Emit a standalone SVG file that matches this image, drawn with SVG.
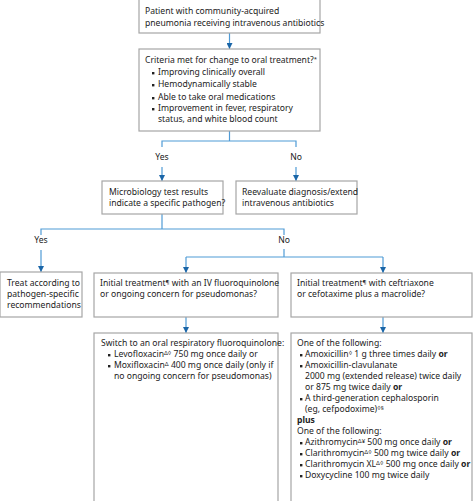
<svg xmlns="http://www.w3.org/2000/svg" width="474" height="501" viewBox="0 0 474 501">
<defs>
<marker id="ah" viewBox="0 0 10 10" refX="10" refY="5" markerWidth="6" markerHeight="6" markerUnits="userSpaceOnUse" orient="auto">
<path d="M0,0 L10,5 L0,10 z" fill="#1a66a8"/>
</marker>
<style>
.box{fill:#fff;stroke:#a6a6a6;stroke-width:1.2}
.t{font-family:"Noto Sans","Open Sans",sans-serif;font-size:8.6px;fill:#222}
.b{font-weight:bold}
.s{font-size:6px}
.c{fill:none;stroke:#4f9bd6;stroke-width:1.2}
.a{marker-end:url(#ah)}
.l{text-anchor:middle}
.bl{fill:#222}
</style>
</defs>
<rect width="474" height="501" fill="#fff"/>
<g id="connectors">
<line class="c a" x1="229.5" y1="33" x2="229.5" y2="49"/>
<polyline class="c" points="229.5,131 229.5,141"/>
<polyline class="c" points="162,147 162,141 296,141 296,147"/>
<line class="c a" x1="162" y1="167" x2="162" y2="181"/>
<line class="c a" x1="296" y1="167" x2="296" y2="181"/>
<polyline class="c" points="162,214 162,229"/>
<polyline class="c" points="41,235 41,229 284,229 284,235"/>
<line class="c a" x1="41" y1="250" x2="41" y2="272"/>
<polyline class="c" points="284,249 284,257"/>
<polyline class="c" points="186,257 383,257"/>
<line class="c a" x1="186" y1="257" x2="186" y2="273"/>
<line class="c a" x1="383" y1="257" x2="383" y2="273"/>
<line class="c a" x1="186" y1="317" x2="186" y2="333"/>
<line class="c a" x1="383" y1="317" x2="383" y2="333"/>
<text class="t l" x="162" y="160">Yes</text>
<text class="t l" x="296" y="160">No</text>
<text class="t l" x="41" y="243">Yes</text>
<text class="t l" x="284" y="243">No</text>
</g>
<g id="n1">
<rect class="box" x="139" y="-1" width="181" height="34"/>
<text class="t" x="145" y="14">Patient with community-acquired</text>
<text class="t" x="145" y="26">pneumonia receiving intravenous antibiotics</text>
</g>
<g id="n2">
<rect class="box" x="139" y="49" width="181" height="82"/>
<text class="t" x="145" y="63">Criteria met for change to oral treatment?<tspan class="s" dy="-2">*</tspan></text>
<rect class="bl" x="152" y="72" width="2.4" height="2.4"/>
<text class="t" x="158" y="75">Improving clinically overall</text>
<rect class="bl" x="152" y="84" width="2.4" height="2.4"/>
<text class="t" x="158" y="87">Hemodynamically stable</text>
<rect class="bl" x="152" y="97" width="2.4" height="2.4"/>
<text class="t" x="158" y="100">Able to take oral medications</text>
<rect class="bl" x="152" y="108" width="2.4" height="2.4"/>
<text class="t" x="158" y="111">Improvement in fever, respiratory</text>
<text class="t" x="158" y="122">status, and white blood count</text>
</g>
<g id="n3">
<rect class="box" x="102" y="181" width="121" height="33"/>
<text class="t" x="109" y="195">Microbiology test results</text>
<text class="t" x="109" y="206">indicate a specific pathogen?</text>
</g>
<g id="n4">
<rect class="box" x="236" y="181" width="121" height="33"/>
<text class="t" x="242" y="195">Reevaluate diagnosis/extend</text>
<text class="t" x="242" y="206">intravenous antibiotics</text>
</g>
<g id="n5">
<rect class="box" x="0" y="272" width="82" height="45"/>
<text class="t" x="7" y="286">Treat according to</text>
<text class="t" x="7" y="297">pathogen-specific</text>
<text class="t" x="7" y="308">recommendations</text>
</g>
<g id="n6">
<rect class="box" x="94" y="273" width="184" height="44"/>
<text class="t" x="100" y="286">Initial treatment<tspan class="s" dy="-2">¶</tspan><tspan dy="2"> with an IV fluoroquinolone</tspan></text>
<text class="t" x="100" y="297">or ongoing concern for pseudomonas?</text>
</g>
<g id="n7">
<rect class="box" x="291" y="273" width="181" height="44"/>
<text class="t" x="297" y="286">Initial treatment<tspan class="s" dy="-2">¶</tspan><tspan dy="2"> with ceftriaxone</tspan></text>
<text class="t" x="297" y="297">or cefotaxime plus a macrolide?</text>
</g>
<g id="n8">
<rect class="box" x="94" y="333" width="184" height="180"/>
<text class="t" x="101" y="346">Switch to an oral respiratory fluoroquinolone:</text>
<rect class="bl" x="108" y="354" width="2.4" height="2.4"/>
<text class="t" x="114" y="357">Levofloxacin<tspan class="s" dy="-2">Δ◊</tspan><tspan dy="2"> 750 mg once daily or</tspan></text>
<rect class="bl" x="108" y="365" width="2.4" height="2.4"/>
<text class="t" x="114" y="368">Moxifloxacin<tspan class="s" dy="-2">Δ</tspan><tspan dy="2"> 400 mg once daily (only if</tspan></text>
<text class="t" x="114" y="379">no ongoing concern for pseudomonas)</text>
</g>
<g id="n9">
<rect class="box" x="291" y="333" width="181" height="180"/>
<text class="t" x="297" y="346">One of the following:</text>
<rect class="bl" x="300" y="354" width="2.4" height="2.4"/>
<text class="t" x="305" y="357">Amoxicillin<tspan class="s" dy="-2">◊</tspan><tspan dy="2"> 1 g three times daily </tspan><tspan class="b">or</tspan></text>
<rect class="bl" x="300" y="365" width="2.4" height="2.4"/>
<text class="t" x="305" y="368">Amoxicillin-clavulanate</text>
<text class="t" x="305" y="379">2000 mg (extended release) twice daily</text>
<text class="t" x="305" y="390">or 875 mg twice daily <tspan class="b">or</tspan></text>
<rect class="bl" x="300" y="398" width="2.4" height="2.4"/>
<text class="t" x="305" y="401">A third-generation cephalosporin</text>
<text class="t" x="305" y="412">(eg, cefpodoxime)<tspan class="s" dy="-2">◊§</tspan></text>
<text class="t b" x="297" y="423">plus</text>
<text class="t" x="297" y="434">One of the following:</text>
<rect class="bl" x="300" y="442" width="2.4" height="2.4"/>
<text class="t" x="305" y="445">Azithromycin<tspan class="s" dy="-2">Δ¥</tspan><tspan dy="2"> 500 mg once daily </tspan><tspan class="b">or</tspan></text>
<rect class="bl" x="300" y="453" width="2.4" height="2.4"/>
<text class="t" x="305" y="456">Clarithromycin<tspan class="s" dy="-2">Δ◊</tspan><tspan dy="2"> 500 mg twice daily </tspan><tspan class="b">or</tspan></text>
<rect class="bl" x="300" y="464" width="2.4" height="2.4"/>
<text class="t" x="305" y="467">Clarithromycin XL<tspan class="s" dy="-2">Δ◊</tspan><tspan dy="2"> 500 mg once daily </tspan><tspan class="b">or</tspan></text>
<rect class="bl" x="300" y="475" width="2.4" height="2.4"/>
<text class="t" x="305" y="478">Doxycycline 100 mg twice daily</text>
</g>
</svg>
